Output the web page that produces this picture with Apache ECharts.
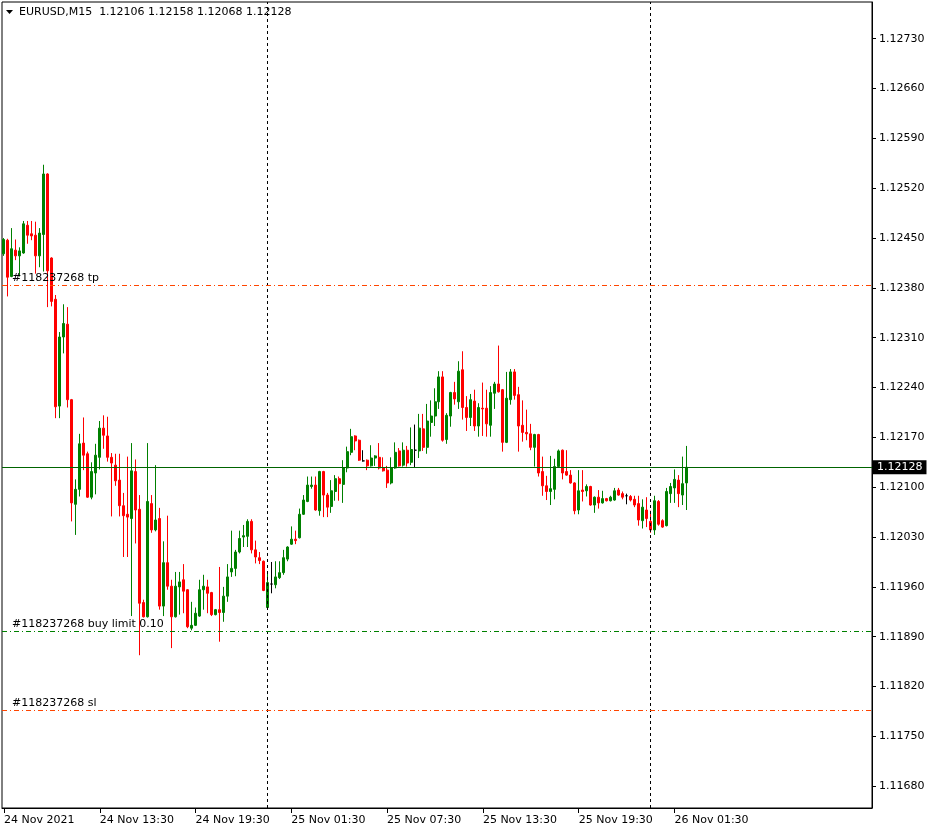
<!DOCTYPE html>
<html>
<head>
<meta charset="utf-8">
<title>EURUSD,M15</title>
<script src="https://cdn.jsdelivr.net/npm/echarts@6.0.0/dist/echarts.min.js"></script>
<style>
  html, body { margin: 0; padding: 0; background: #ffffff; }
  #chart { width: 936px; height: 832px; }
</style>
</head>
<body>
<div id="chart"></div>
<script>
// ---------------- data ----------------
const symbolName = "EURUSD,M15";
const firstBarTime = "2021-11-24 07:30"; // 15 minute bars
const barMinutes = 15;
const totalSlots = 218; // bars plus the empty chart shift on the right

const opens = [
  1.12428,1.12447,1.12396,1.12433,1.12425,1.12429,1.12468,1.12456,1.12454,1.12425,
  1.12455,1.12540,1.12422,1.12364,1.12214,1.12311,1.12329,1.12223,1.12076,1.12097,
  1.12162,1.12147,1.12086,1.12120,1.12142,1.12183,1.12172,1.12142,1.12131,1.12110,
  1.12074,1.12062,1.12056,1.12122,1.12069,1.11938,1.11918,1.12077,1.12040,1.12056,
  1.11933,1.11994,1.11961,1.11918,1.11960,1.11970,1.11956,1.11902,1.11906,1.11919,
  1.11956,1.11960,1.11952,1.11921,1.11928,1.11924,1.11947,1.11981,1.11986,1.12009,
  1.12030,1.12031,1.12052,1.12012,1.12001,1.11996,1.11931,1.11964,1.11963,1.11973,
  1.11980,1.11999,1.12020,1.12027,1.12029,1.12062,1.12080,1.12101,1.12103,1.12067,
  1.12122,1.12089,1.12073,1.12094,1.12112,1.12104,1.12127,1.12149,1.12172,1.12166,
  1.12137,1.12138,1.12130,1.12141,1.12142,1.12127,1.12124,1.12106,1.12127,1.12151,
  1.12131,1.12152,1.12135,1.12152,1.12151,1.12182,1.12156,1.12191,1.12200,1.12220,
  1.12255,1.12167,1.12200,1.12233,1.12220,1.12265,1.12212,1.12198,1.12221,1.12186,
  1.12211,1.12211,1.12187,1.12232,1.12245,1.12237,1.12163,1.12223,1.12262,1.12230,
  1.12187,1.12177,1.12175,1.12156,1.12174,1.12122,1.12102,1.12094,1.12097,1.12129,
  1.12152,1.12122,1.12117,1.12106,1.12068,1.12096,1.12095,1.12101,1.12075,1.12086,
  1.12078,1.12084,1.12081,1.12082,1.12096,1.12091,1.12088,1.12087,1.12083,1.12077,
  1.12053,1.12068,1.12052,1.12040,1.12080,1.12053,1.12046,1.12091,1.12099,1.12110,
  1.12089,1.12106
];
const closes = [
  1.12448,1.12395,1.12435,1.12425,1.12432,1.12470,1.12454,1.12453,1.12425,1.12457,
  1.12540,1.12404,1.12361,1.12213,1.12311,1.12330,1.12223,1.12078,1.12097,1.12161,
  1.12145,1.12086,1.12122,1.12145,1.12183,1.12173,1.12142,1.12134,1.12109,1.12074,
  1.12060,1.12058,1.12123,1.12068,1.11937,1.11918,1.12080,1.12040,1.12054,1.11933,
  1.11994,1.11961,1.11918,1.11961,1.11967,1.11954,1.11904,1.11906,1.11923,1.11956,
  1.11961,1.11951,1.11921,1.11928,1.11924,1.11947,1.11974,1.11986,1.12009,1.12028,
  1.12032,1.12052,1.12012,1.12002,1.11997,1.11955,1.11966,1.11964,1.11974,1.11980,
  1.12001,1.12016,1.12027,1.12025,1.12062,1.12082,1.12103,1.12103,1.12068,1.12122,
  1.12089,1.12072,1.12095,1.12112,1.12105,1.12127,1.12150,1.12171,1.12165,1.12138,
  1.12137,1.12130,1.12141,1.12144,1.12127,1.12123,1.12106,1.12127,1.12149,1.12130,
  1.12152,1.12134,1.12153,1.12152,1.12183,1.12156,1.12193,1.12200,1.12220,1.12255,
  1.12166,1.12201,1.12233,1.12224,1.12263,1.12212,1.12198,1.12223,1.12186,1.12212,
  1.12210,1.12189,1.12233,1.12245,1.12234,1.12163,1.12225,1.12262,1.12229,1.12186,
  1.12177,1.12175,1.12156,1.12174,1.12120,1.12102,1.12094,1.12098,1.12129,1.12151,
  1.12120,1.12117,1.12106,1.12067,1.12095,1.12094,1.12101,1.12075,1.12086,1.12078,
  1.12084,1.12081,1.12086,1.12095,1.12089,1.12086,1.12088,1.12082,1.12075,1.12054,
  1.12072,1.12056,1.12040,1.12081,1.12048,1.12044,1.12094,1.12101,1.12111,1.12091,
  1.12105,1.12128
];
const lows = [
  1.12425,1.12368,1.12395,1.12419,1.12396,1.12428,1.12442,1.12447,1.12400,1.12409,
  1.12403,1.12353,1.12354,1.12197,1.12197,1.12288,1.12212,1.12052,1.12033,1.12087,
  1.12124,1.12085,1.12083,1.12090,1.12125,1.12154,1.12136,1.12059,1.12102,1.12059,
  1.12002,1.12002,1.11919,1.12021,1.11864,1.11917,1.11917,1.12036,1.12038,1.11928,
  1.11919,1.11956,1.11874,1.11917,1.11921,1.11923,1.11902,1.11899,1.11905,1.11918,
  1.11928,1.11923,1.11919,1.11920,1.11883,1.11911,1.11939,1.11974,1.11975,1.12007,
  1.12016,1.12016,1.12007,1.11993,1.11992,1.11954,1.11930,1.11951,1.11958,1.11971,
  1.11977,1.11996,1.12019,1.12020,1.12028,1.12061,1.12079,1.12098,1.12067,1.12060,
  1.12058,1.12058,1.12064,1.12081,1.12081,1.12078,1.12121,1.12145,1.12152,1.12137,
  1.12136,1.12124,1.12129,1.12130,1.12125,1.12122,1.12099,1.12104,1.12126,1.12129,
  1.12129,1.12129,1.12131,1.12127,1.12141,1.12151,1.12147,1.12171,1.12186,1.12210,
  1.12164,1.12161,1.12185,1.12216,1.12210,1.12195,1.12179,1.12186,1.12179,1.12171,
  1.12172,1.12171,1.12171,1.12210,1.12233,1.12150,1.12162,1.12216,1.12223,1.12150,
  1.12164,1.12166,1.12152,1.12129,1.12115,1.12088,1.12082,1.12075,1.12083,1.12128,
  1.12111,1.12116,1.12105,1.12062,1.12062,1.12080,1.12087,1.12074,1.12064,1.12070,
  1.12077,1.12080,1.12080,1.12081,1.12088,1.12083,1.12076,1.12080,1.12072,1.12046,
  1.12042,1.12044,1.12036,1.12033,1.12046,1.12043,1.12045,1.12078,1.12078,1.12072,
  1.12075,1.12068
];
const highs = [
  1.12450,1.12449,1.12464,1.12448,1.12437,1.12474,1.12474,1.12474,1.12473,1.12464,
  1.12553,1.12541,1.12423,1.12370,1.12318,1.12357,1.12353,1.12224,1.12111,1.12175,
  1.12198,1.12150,1.12135,1.12161,1.12193,1.12201,1.12199,1.12148,1.12147,1.12147,
  1.12092,1.12143,1.12162,1.12139,1.12089,1.11942,1.12162,1.12089,1.12131,1.12071,
  1.12024,1.12060,1.11970,1.11981,1.11981,1.11992,1.11957,1.11939,1.11931,1.11970,
  1.11977,1.11970,1.11953,1.11929,1.11988,1.11960,1.11992,1.12039,1.12012,1.12039,
  1.12047,1.12055,1.12055,1.12025,1.12009,1.11997,1.11979,1.11995,1.11996,1.11996,
  1.12012,1.12017,1.12045,1.12039,1.12070,1.12089,1.12115,1.12115,1.12115,1.12123,
  1.12123,1.12092,1.12110,1.12117,1.12115,1.12138,1.12157,1.12182,1.12173,1.12167,
  1.12152,1.12139,1.12159,1.12145,1.12162,1.12142,1.12130,1.12142,1.12163,1.12155,
  1.12163,1.12158,1.12184,1.12188,1.12203,1.12203,1.12217,1.12222,1.12239,1.12263,
  1.12263,1.12204,1.12234,1.12248,1.12277,1.12291,1.12228,1.12231,1.12237,1.12218,
  1.12247,1.12237,1.12242,1.12248,1.12299,1.12238,1.12262,1.12266,1.12266,1.12241,
  1.12222,1.12209,1.12189,1.12175,1.12175,1.12143,1.12116,1.12144,1.12140,1.12153,
  1.12153,1.12152,1.12124,1.12107,1.12124,1.12124,1.12104,1.12102,1.12087,1.12096,
  1.12095,1.12085,1.12088,1.12099,1.12099,1.12094,1.12091,1.12089,1.12088,1.12088,
  1.12083,1.12086,1.12067,1.12088,1.12082,1.12055,1.12099,1.12106,1.12125,1.12117,
  1.12143,1.12158
];

const yTickValues = [1.11680,1.11750,1.11820,1.11890,1.11960,1.12030,1.12100,1.12170,
                     1.12240,1.12310,1.12380,1.12450,1.12520,1.12590,1.12660,1.12730];
const yMin = 1.116494;
const yMax = 1.127816;

const xTickLabels = ["24 Nov 2021","24 Nov 13:30","24 Nov 19:30","25 Nov 01:30",
                     "25 Nov 07:30","25 Nov 13:30","25 Nov 19:30","26 Nov 01:30"];
const xTickEvery = 24;

const periodSeparators = ["25 Nov 00:00", "26 Nov 00:00"];

const orderId = "#118237268";
const tpPrice = 1.12384;
const buyLimitPrice = 1.11898;
const buyLimitLots = "0.10";
const slPrice = 1.11787;

// ---------------- build ----------------
const MONTHS = ["Jan","Feb","Mar","Apr","May","Jun","Jul","Aug","Sep","Oct","Nov","Dec"];
function pad(n){ return (n < 10 ? "0" : "") + n; }
const startMs = Date.parse(firstBarTime.replace(" ", "T") + ":00Z");
const categories = [];
for (let i = 0; i < totalSlots; i++) {
  const d = new Date(startMs + i * barMinutes * 60000);
  categories.push(d.getUTCDate() + " " + MONTHS[d.getUTCMonth()] + " " +
                  pad(d.getUTCHours()) + ":" + pad(d.getUTCMinutes()));
}

const candleData = opens.map(function (o, i) {
  const item = { value: [o, closes[i], lows[i], highs[i]] };
  if (o === closes[i]) {
    item.itemStyle = { color: "#000000", color0: "#000000",
                       borderColor: "#000000", borderColor0: "#000000" };
  }
  return item;
});

const last = opens.length - 1;
const bidPrice = closes[last];
const titleText = symbolName + "  " + opens[last].toFixed(5) + " " + highs[last].toFixed(5) +
                  " " + lows[last].toFixed(5) + " " + closes[last].toFixed(5);

const FONT = "DejaVu Sans";
const dashDot = [5, 3, 1, 3];
const orderLabel = function (txt) {
  return { show: true, position: "insideStartTop", distance: [10, 1],
           formatter: txt, color: "#000000", fontFamily: FONT, fontSize: 11 };
};

function tickShown(idx) { return idx % xTickEvery === 0 && idx / xTickEvery < xTickLabels.length; }

const option = {
  animation: false,
  backgroundColor: "#ffffff",
  grid: { left: 2, right: 64, top: 2, bottom: 24, show: true,
          borderColor: "#000000", borderWidth: 1, backgroundColor: "#ffffff" },
  xAxis: {
    type: "category",
    data: categories,
    boundaryGap: true,
    axisLine: { show: true, lineStyle: { color: "#000000", width: 1 } },
    axisTick: { show: true, interval: tickShown, alignWithLabel: true, length: 5,
                lineStyle: { color: "#000000" } },
    axisLabel: { show: true, interval: tickShown, align: "left", margin: 7,
                 color: "#000000", fontFamily: FONT, fontSize: 11,
                 formatter: function (val, idx) { return xTickLabels[idx / xTickEvery]; } },
    splitLine: { show: false }
  },
  yAxis: {
    type: "value",
    position: "right",
    min: yMin,
    max: yMax,
    scale: true,
    axisLine: { show: true, lineStyle: { color: "#000000", width: 1 } },
    axisTick: { show: true, customValues: yTickValues, length: 4, lineStyle: { color: "#000000" } },
    axisLabel: { show: true, customValues: yTickValues, margin: 7, color: "#000000",
                 fontFamily: FONT, fontSize: 11,
                 formatter: function (v) { return v.toFixed(5); } },
    splitLine: { show: false }
  },
  graphic: [
    { type: "polygon", z: 100, shape: { points: [[6, 10], [13, 10], [9.5, 14]] },
      style: { fill: "#000000" } },
    { type: "text", z: 100, left: 19, top: 7,
      style: { text: titleText, fill: "#000000", font: "11px '" + FONT + "'" } }
  ],
  series: [
    {
      type: "candlestick",
      data: candleData,
      barWidth: 2.5,
      itemStyle: { color: "#008000", color0: "#ff0000",
                   borderColor: "#008000", borderColor0: "#ff0000", borderWidth: 1 }
    },
    {
      // helper series carrying the order / price / period-separator lines
      type: "line",
      data: [],
      silent: true,
      markLine: {
        silent: true,
        precision: 6,
        symbol: ["none", "none"],
        animation: false,
        data: [
          { xAxis: periodSeparators[0], lineStyle: { color: "#000000", type: [3, 3], width: 1 }, label: { show: false } },
          { xAxis: periodSeparators[1], lineStyle: { color: "#000000", type: [3, 3], width: 1 }, label: { show: false } },
          { yAxis: tpPrice, lineStyle: { color: "#ff4500", type: dashDot, width: 1 },
            label: orderLabel(orderId + " tp") },
          { yAxis: buyLimitPrice, lineStyle: { color: "#008000", type: dashDot, width: 1 },
            label: orderLabel(orderId + " buy limit " + buyLimitLots) },
          { yAxis: slPrice, lineStyle: { color: "#ff4500", type: dashDot, width: 1 },
            label: orderLabel(orderId + " sl") },
          { yAxis: bidPrice, lineStyle: { color: "#006400", type: "solid", width: 1 },
            label: { show: true, position: "end", distance: 1, formatter: bidPrice.toFixed(5),
                     color: "#ffffff", backgroundColor: "#000000", padding: [1, 4, 1, 4],
                     fontFamily: FONT, fontSize: 11, lineHeight: 12 } }
        ]
      }
    }
  ]
};

const chart = echarts.init(document.getElementById("chart"), null, { renderer: "canvas" });
chart.setOption(option);
</script>
</body>
</html>
